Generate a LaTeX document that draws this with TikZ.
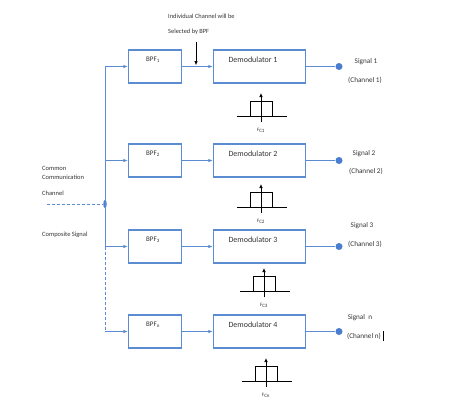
\documentclass[tikz,border=0pt]{standalone}
\usepackage{fontspec}
\setmainfont{Carlito}
\usetikzlibrary{arrows.meta,shapes.geometric}
\definecolor{bl}{HTML}{5B8BD0}
\definecolor{dotc}{HTML}{4A7DD0}
\definecolor{txt}{HTML}{333333}
\tikzset{
  box/.style={draw=bl, line width=1.3pt, minimum height=33pt, inner sep=0pt},
  bpfbox/.style={box, minimum width=53pt},
  dembox/.style={box, minimum width=92pt},
  boxtxt/.style={font=\fontsize{7}{8}\selectfont, text=txt, inner sep=0pt},
  demtxt/.style={font=\fontsize{8}{9}\selectfont, text=txt, inner sep=0pt},
  smalltxt/.style={font=\fontsize{6.4}{7}\selectfont, text=txt, inner sep=0pt},
  sigtxt/.style={font=\fontsize{7.2}{8}\selectfont, text=txt, inner sep=0pt},
  lefttxt/.style={font=\fontsize{6.5}{7}\selectfont, text=txt, inner sep=0pt},
  flabel/.style={font=\fontsize{5}{5}\selectfont, text=txt, inner sep=0pt},
  conn/.style={draw=bl, line width=0.8pt},
  arr/.style={conn, -{Latex[length=4.5pt,width=3.5pt]}},
  outdot/.style={circle, fill=dotc, minimum size=7pt, inner sep=0pt},
  filt/.style={draw=black, line width=0.7pt},
}
\begin{document}
\begin{tikzpicture}[x=1pt,y=-1pt]
\useasboundingbox (0,0) rectangle (474,408);

% top annotation
\node[smalltxt, anchor=west] (ann1) at (168,16) {Individual Channel will be};
\node[smalltxt, anchor=west] (ann2) at (168,32) {Selected by BPF};
\coordinate (annstart) at (196,42);
\coordinate (annend) at (196,65.5);
\draw[line width=0.9pt, -{Latex[length=4.5pt,width=3.5pt]}] (annstart) -- (annend);

% left labels
\node[lefttxt, anchor=west] (lc1) at (42,168) {Common};
\node[lefttxt, anchor=west] (lc2) at (42,177.5) {Communication};
\node[lefttxt, anchor=west] (lc3) at (42,193) {Channel};
\node[lefttxt, anchor=west] (lc4) at (42,235) {Composite Signal};

% input
\coordinate (inp) at (47,204);
\node[ellipse, fill=dotc, minimum width=3.5pt, minimum height=8pt, inner sep=0pt] (jn) at (105,204) {};
\draw[conn, dashed, dash pattern=on 3pt off 2pt] (inp) -- (jn);

% bus coordinates
\coordinate (b1) at (105,66.5);
\coordinate (b2) at (105,160.5);
\coordinate (b3) at (105,246.5);
\coordinate (b4) at (105,331.5);
\draw[conn] (b1) -- (b3);
\draw[conn, dashed, dash pattern=on 3pt off 2pt] (b3) -- (b4);

% rows
\foreach \i/\y/\bt/\dt/\fx/\fy/\fl/\sa/\sb/\sx/\sy/\cx/\cy in {
  1/66.5/BPF\textsubscript{1}/Demodulator 1/261/116/F\textsubscript{C1}/Signal 1/(Channel 1)/366/62/365/80,
  2/160.5/BPF\textsubscript{2}/Demodulator 2/261/207/F\textsubscript{C2}/Signal 2/(Channel 2)/364/154/366/171,
  3/246.5/BPF\textsubscript{3}/Demodulator 3/264/291/F\textsubscript{C3}/Signal 3/(Channel 3)/362/226/365/244,
  4/331.5/BPF\textsubscript{n}/Demodulator 4/266/381/F\textsubscript{Cn}/Signal\ \ n/(Channel n)/360/318/364/336}
{
  \node[bpfbox] (bpf\i) at (155,\y) {};
  \node[boxtxt] (bpft\i) at (153,\y-7) {\bt};
  \node[dembox] (dem\i) at (259.5,\y) {};
  \node[demtxt] (demt\i) at (253,\y-7) {\dt};
  \node[outdot] (o\i) at (339,\y) {};
  \draw[arr] (b\i) -- (bpf\i.west);
  \draw[arr] (bpf\i.east) -- (dem\i.west);
  \draw[conn] (dem\i.east) -- (o\i);
  \node[sigtxt] (sa\i) at (\sx,\sy) {\sa};
  \node[sigtxt] (sb\i) at (\cx,\cy) {\sb};
  % filter symbol
  \coordinate (fl\i) at (\fx-24,\fy);
  \coordinate (fr\i) at (\fx+26,\fy);
  \draw[filt] (fl\i) -- (fr\i);
  \coordinate (ra\i) at (\fx-11,\fy);
  \coordinate (rb\i) at (\fx+11,\fy-14.5);
  \draw[filt] (ra\i) rectangle (rb\i);
  \coordinate (fa\i) at (\fx,\fy+6);
  \coordinate (fb\i) at (\fx,\fy-23);
  \draw[filt, -{Latex[length=4pt,width=3.5pt]}] (fa\i) -- (fb\i);
  \node[flabel] (fc\i) at (\fx,\fy+14.5) {\fl};
}
% cursor bar
\coordinate (cu1) at (383.5,331);
\coordinate (cu2) at (383.5,341);
\draw[black, line width=0.8pt] (cu1) -- (cu2);
\end{tikzpicture}
\end{document}
